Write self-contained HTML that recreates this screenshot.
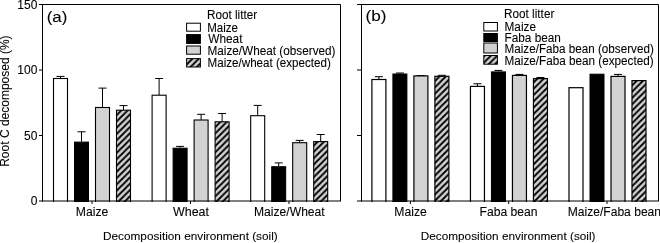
<!DOCTYPE html>
<html><head><meta charset="utf-8"><style>
html,body{margin:0;padding:0;background:#fff;width:660px;height:243px;overflow:hidden}
svg{display:block}
text{font-family:"Liberation Sans", Arial, sans-serif;fill:#000;stroke:#000;stroke-width:0.08px}
.e{stroke:#000;stroke-width:1;fill:none}
.ax{stroke:#000;stroke-width:1;fill:none}
</style></head><body>
<svg width="660" height="243" viewBox="0 0 660 243">
<defs>
<pattern id="ha0" patternUnits="userSpaceOnUse" x="5.0" y="0" width="6.3" height="6.3"><rect width="6.3" height="6.3" fill="#d2d2d2"/><path d="M-1.575,1.575 L1.575,-1.575 M0,6.3 L6.3,0 M4.725,7.875 L7.875,4.725" stroke="#000" stroke-width="1.9"/></pattern>
<pattern id="ha1" patternUnits="userSpaceOnUse" x="2.2" y="0" width="6.3" height="6.3"><rect width="6.3" height="6.3" fill="#d2d2d2"/><path d="M-1.575,1.575 L1.575,-1.575 M0,6.3 L6.3,0 M4.725,7.875 L7.875,4.725" stroke="#000" stroke-width="1.9"/></pattern>
<pattern id="ha2" patternUnits="userSpaceOnUse" x="5.8" y="0" width="6.3" height="6.3"><rect width="6.3" height="6.3" fill="#d2d2d2"/><path d="M-1.575,1.575 L1.575,-1.575 M0,6.3 L6.3,0 M4.725,7.875 L7.875,4.725" stroke="#000" stroke-width="1.9"/></pattern>
<pattern id="hb0" patternUnits="userSpaceOnUse" x="5.7" y="0" width="6.3" height="6.3"><rect width="6.3" height="6.3" fill="#d2d2d2"/><path d="M-1.575,1.575 L1.575,-1.575 M0,6.3 L6.3,0 M4.725,7.875 L7.875,4.725" stroke="#000" stroke-width="1.9"/></pattern>
<pattern id="hb1" patternUnits="userSpaceOnUse" x="5.0" y="0" width="6.3" height="6.3"><rect width="6.3" height="6.3" fill="#d2d2d2"/><path d="M-1.575,1.575 L1.575,-1.575 M0,6.3 L6.3,0 M4.725,7.875 L7.875,4.725" stroke="#000" stroke-width="1.9"/></pattern>
<pattern id="hb2" patternUnits="userSpaceOnUse" x="5.6" y="0" width="6.3" height="6.3"><rect width="6.3" height="6.3" fill="#d2d2d2"/><path d="M-1.575,1.575 L1.575,-1.575 M0,6.3 L6.3,0 M4.725,7.875 L7.875,4.725" stroke="#000" stroke-width="1.9"/></pattern>
<pattern id="hla" patternUnits="userSpaceOnUse" x="5.5" y="0" width="6.3" height="6.3"><rect width="6.3" height="6.3" fill="#d2d2d2"/><path d="M-1.575,1.575 L1.575,-1.575 M0,6.3 L6.3,0 M4.725,7.875 L7.875,4.725" stroke="#000" stroke-width="1.9"/></pattern>
<pattern id="hlb" patternUnits="userSpaceOnUse" x="4.8" y="0" width="6.3" height="6.3"><rect width="6.3" height="6.3" fill="#d2d2d2"/><path d="M-1.575,1.575 L1.575,-1.575 M0,6.3 L6.3,0 M4.725,7.875 L7.875,4.725" stroke="#000" stroke-width="1.9"/></pattern>
<clipPath id="bc"><rect x="0" y="0" width="660" height="202"/></clipPath>
</defs>
<rect width="660" height="243" fill="#fff"/>
<g clip-path="url(#bc)">
<line x1="60.50" y1="78.50" x2="60.50" y2="76.40" class="e"/>
<line x1="56.50" y1="76.40" x2="64.50" y2="76.40" class="e"/>
<rect x="53.50" y="78.50" width="14" height="124.50" fill="#fff" stroke="#000" stroke-width="1.1"/>
<line x1="81.50" y1="141.60" x2="81.50" y2="131.80" class="e"/>
<line x1="77.50" y1="131.80" x2="85.50" y2="131.80" class="e"/>
<rect x="74.50" y="142.10" width="14" height="60.90" fill="#000" stroke="#000" stroke-width="1"/>
<line x1="102.50" y1="107.50" x2="102.50" y2="88.10" class="e"/>
<line x1="98.50" y1="88.10" x2="106.50" y2="88.10" class="e"/>
<rect x="95.50" y="107.50" width="14" height="95.50" fill="#d2d2d2" stroke="#000" stroke-width="1.1"/>
<line x1="123.50" y1="110.20" x2="123.50" y2="105.60" class="e"/>
<line x1="119.50" y1="105.60" x2="127.50" y2="105.60" class="e"/>
<rect x="116.50" y="110.20" width="14" height="92.80" fill="url(#ha0)" stroke="#000" stroke-width="1.1"/>
<line x1="159.10" y1="95.20" x2="159.10" y2="78.50" class="e"/>
<line x1="155.10" y1="78.50" x2="163.10" y2="78.50" class="e"/>
<rect x="152.10" y="95.20" width="14" height="107.80" fill="#fff" stroke="#000" stroke-width="1.1"/>
<line x1="180.10" y1="147.70" x2="180.10" y2="146.40" class="e"/>
<line x1="176.10" y1="146.40" x2="184.10" y2="146.40" class="e"/>
<rect x="173.10" y="148.20" width="14" height="54.80" fill="#000" stroke="#000" stroke-width="1"/>
<line x1="201.10" y1="120.00" x2="201.10" y2="114.30" class="e"/>
<line x1="197.10" y1="114.30" x2="205.10" y2="114.30" class="e"/>
<rect x="194.10" y="120.00" width="14" height="83.00" fill="#d2d2d2" stroke="#000" stroke-width="1.1"/>
<line x1="222.10" y1="121.80" x2="222.10" y2="113.50" class="e"/>
<line x1="218.10" y1="113.50" x2="226.10" y2="113.50" class="e"/>
<rect x="215.10" y="121.80" width="14" height="81.20" fill="url(#ha1)" stroke="#000" stroke-width="1.1"/>
<line x1="257.70" y1="115.70" x2="257.70" y2="105.40" class="e"/>
<line x1="253.70" y1="105.40" x2="261.70" y2="105.40" class="e"/>
<rect x="250.70" y="115.70" width="14" height="87.30" fill="#fff" stroke="#000" stroke-width="1.1"/>
<line x1="278.70" y1="166.20" x2="278.70" y2="162.90" class="e"/>
<line x1="274.70" y1="162.90" x2="282.70" y2="162.90" class="e"/>
<rect x="271.70" y="166.70" width="14" height="36.30" fill="#000" stroke="#000" stroke-width="1"/>
<line x1="299.70" y1="142.70" x2="299.70" y2="140.40" class="e"/>
<line x1="295.70" y1="140.40" x2="303.70" y2="140.40" class="e"/>
<rect x="292.70" y="142.70" width="14" height="60.30" fill="#d2d2d2" stroke="#000" stroke-width="1.1"/>
<line x1="320.70" y1="141.60" x2="320.70" y2="134.50" class="e"/>
<line x1="316.70" y1="134.50" x2="324.70" y2="134.50" class="e"/>
<rect x="313.70" y="141.60" width="14" height="61.40" fill="url(#ha2)" stroke="#000" stroke-width="1.1"/>
<line x1="378.90" y1="79.50" x2="378.90" y2="76.70" class="e"/>
<line x1="374.90" y1="76.70" x2="382.90" y2="76.70" class="e"/>
<rect x="371.90" y="79.50" width="14" height="123.50" fill="#fff" stroke="#000" stroke-width="1.2"/>
<line x1="399.90" y1="73.50" x2="399.90" y2="73.00" class="e"/>
<line x1="395.90" y1="73.00" x2="403.90" y2="73.00" class="e"/>
<rect x="392.90" y="74.00" width="14" height="129.00" fill="#000" stroke="#000" stroke-width="1"/>
<line x1="420.90" y1="75.90" x2="420.90" y2="75.50" class="e"/>
<line x1="416.90" y1="75.50" x2="424.90" y2="75.50" class="e"/>
<rect x="413.90" y="75.90" width="14" height="127.10" fill="#d2d2d2" stroke="#000" stroke-width="1.2"/>
<line x1="441.90" y1="76.30" x2="441.90" y2="75.30" class="e"/>
<line x1="437.90" y1="75.30" x2="445.90" y2="75.30" class="e"/>
<rect x="434.90" y="76.30" width="14" height="126.70" fill="url(#hb0)" stroke="#000" stroke-width="1.2"/>
<line x1="477.45" y1="86.40" x2="477.45" y2="83.75" class="e"/>
<line x1="473.45" y1="83.75" x2="481.45" y2="83.75" class="e"/>
<rect x="470.45" y="86.40" width="14" height="116.60" fill="#fff" stroke="#000" stroke-width="1.2"/>
<line x1="498.45" y1="71.40" x2="498.45" y2="70.40" class="e"/>
<line x1="494.45" y1="70.40" x2="502.45" y2="70.40" class="e"/>
<rect x="491.45" y="71.90" width="14" height="131.10" fill="#000" stroke="#000" stroke-width="1"/>
<line x1="519.45" y1="75.40" x2="519.45" y2="74.40" class="e"/>
<line x1="515.45" y1="74.40" x2="523.45" y2="74.40" class="e"/>
<rect x="512.45" y="75.40" width="14" height="127.60" fill="#d2d2d2" stroke="#000" stroke-width="1.2"/>
<line x1="540.45" y1="78.60" x2="540.45" y2="77.50" class="e"/>
<line x1="536.45" y1="77.50" x2="544.45" y2="77.50" class="e"/>
<rect x="533.45" y="78.60" width="14" height="124.40" fill="url(#hb1)" stroke="#000" stroke-width="1.2"/>
<rect x="569.00" y="87.70" width="14" height="115.30" fill="#fff" stroke="#000" stroke-width="1.2"/>
<rect x="590.00" y="74.20" width="14" height="128.80" fill="#000" stroke="#000" stroke-width="1"/>
<line x1="618.00" y1="76.40" x2="618.00" y2="74.40" class="e"/>
<line x1="614.00" y1="74.40" x2="622.00" y2="74.40" class="e"/>
<rect x="611.00" y="76.40" width="14" height="126.60" fill="#d2d2d2" stroke="#000" stroke-width="1.2"/>
<rect x="632.00" y="80.60" width="14" height="122.40" fill="url(#hb2)" stroke="#000" stroke-width="1.2"/>
</g>
<path class="ax" d="M39,4.5 H340.5 V201 M42.5,4 V201.5 M39,70 H42.5 M39,135.5 H42.5"/>
<path class="ax" d="M39,201 H341"/>
<path class="ax" d="M92,201 V204 M190.5,201 V204 M289,201 V204" stroke-width="0.8"/>
<path class="ax" d="M357,4.5 H658.5 V201 M361.5,4 V201.5 M357,70 H361.5 M357,135.5 H361.5"/>
<path class="ax" d="M357,201 H659"/>
<path class="ax" d="M410.4,201 V204 M508.7,201 V204 M607,201 V204" stroke-width="0.8"/>
<g font-size="12" text-anchor="end">
<text x="37.4" y="8.5">150</text>
<text x="37.4" y="73.9">100</text>
<text x="37.4" y="139.7">50</text>
<text x="37.4" y="205">0</text>
</g>
<text transform="translate(8.7,166.8) rotate(-90)" font-size="12">Root C decomposed (%)</text>
<text x="46.69" y="21.8" font-size="15.3" textLength="20.68" lengthAdjust="spacingAndGlyphs">(a)</text>
<text x="365.58" y="21.0" font-size="15.3" textLength="21.01" lengthAdjust="spacingAndGlyphs">(b)</text>
<text x="75.78" y="215.7" font-size="12" textLength="32.55" lengthAdjust="spacingAndGlyphs">Maize</text>
<text x="173.00" y="215.7" font-size="12" textLength="36.01" lengthAdjust="spacingAndGlyphs">Wheat</text>
<text x="253.99" y="215.7" font-size="12" textLength="70.74" lengthAdjust="spacingAndGlyphs">Maize/Wheat</text>
<text x="394.39" y="215.7" font-size="12" textLength="32.44" lengthAdjust="spacingAndGlyphs">Maize</text>
<text x="479.49" y="215.7" font-size="12" textLength="58.11" lengthAdjust="spacingAndGlyphs">Faba bean</text>
<text x="567.79" y="215.7" font-size="12" textLength="93.24" lengthAdjust="spacingAndGlyphs">Maize/Faba bean</text>
<text x="103.08" y="240" font-size="11.5" textLength="174.59" lengthAdjust="spacingAndGlyphs">Decomposition environment (soil)</text>
<text x="420.78" y="240" font-size="11.5" textLength="174.70" lengthAdjust="spacingAndGlyphs">Decomposition environment (soil)</text>
<g font-size="11.5">
<text x="207.02" y="19.0" font-size="12" textLength="50.13" lengthAdjust="spacingAndGlyphs">Root litter</text>
<text x="207.24" y="31.5" font-size="12" textLength="30.74" lengthAdjust="spacingAndGlyphs">Maize</text>
<text x="208.20" y="43.4" font-size="12" textLength="34.28" lengthAdjust="spacingAndGlyphs">Wheat</text>
<text x="207.52" y="54.8" font-size="12" textLength="127.98" lengthAdjust="spacingAndGlyphs">Maize/Wheat (observed)</text>
<text x="207.53" y="67.2" font-size="12" textLength="123.36" lengthAdjust="spacingAndGlyphs">Maize/wheat (expected)</text>
</g>
<rect x="186.6" y="23.2" width="13.8" height="8" fill="#fff" stroke="#000"/>
<rect x="186.6" y="34.6" width="13.8" height="8.8" fill="#000" stroke="#000"/>
<rect x="186.6" y="46" width="13.8" height="8.2" fill="#d2d2d2" stroke="#000"/>
<rect x="186.6" y="58.6" width="13.8" height="8.4" fill="url(#hla)" stroke="#000"/>
<g font-size="11.5">
<text x="504.02" y="18.4" font-size="12" textLength="50.33" lengthAdjust="spacingAndGlyphs">Root litter</text>
<text x="504.52" y="31.3" font-size="12" textLength="31.48" lengthAdjust="spacingAndGlyphs">Maize</text>
<text x="504.52" y="41.9" font-size="12" textLength="56.37" lengthAdjust="spacingAndGlyphs">Faba bean</text>
<text x="504.53" y="53.2" font-size="12" textLength="149.28" lengthAdjust="spacingAndGlyphs">Maize/Faba bean (observed)</text>
<text x="504.52" y="64.8" font-size="12" textLength="149.12" lengthAdjust="spacingAndGlyphs">Maize/Faba bean (expected)</text>
</g>
<rect x="483.8" y="22.5" width="13.6" height="8.5" fill="#fff" stroke="#000"/>
<rect x="483.8" y="33.5" width="13.6" height="8" fill="#000" stroke="#000"/>
<rect x="483.8" y="43" width="13.6" height="10" fill="#d2d2d2" stroke="#000"/>
<rect x="483.8" y="55.5" width="13.6" height="8.7" fill="url(#hlb)" stroke="#000"/>
</svg>
</body></html>
